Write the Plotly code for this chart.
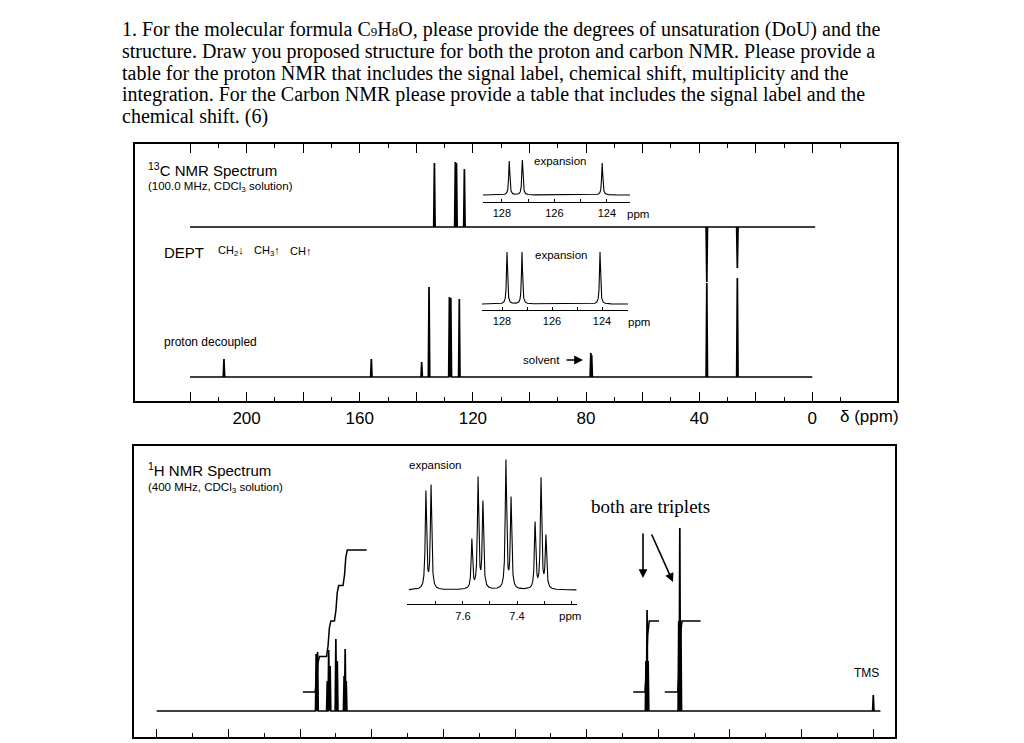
import numpy as np
import plotly.graph_objects as go

# The page body has an 8px margin: the figure is sized and positioned to compensate.
OFF = 8
W, H = 1024 - OFF, 743 - OFF


def px(x):
    return (x - OFF) / W


def py(y):
    return 1 - (y - OFF) / H


# ---------------- data ----------------
question_lines = [
    "1. For the molecular formula C<span style='font-size:13px'>9</span>H<span style='font-size:13px'>8</span>O, please provide the degrees of unsaturation (DoU) and the",
    "structure. Draw you proposed structure for both the proton and carbon NMR. Please provide a",
    "table for the proton NMR that includes the signal label, chemical shift, multiplicity and the",
    "integration. For the Carbon NMR please provide a table that includes the signal label and the",
    "chemical shift. (6)",
]

# 13C proton decoupled spectrum (ppm, relative intensity)
c13_ppm = [208.0, 155.9, 138.1, 135.5, 128.3, 127.8, 124.8, 78.3, 78.0, 37.3, 26.5]
c13_int = [18, 18, 15, 90, 80, 79, 78, 24, 22, 94, 99]
# DEPT spectrum (CH up, CH2 down)
dept_ppm = [133.6, 126.2, 125.8, 123.0, 37.3, 26.5]
dept_int = [64, 65, 64, 58, -55, -41]
# 13C expansion insets
c13_exp_ppm = [127.72, 127.22, 124.18]
dept_exp_int = [34, 35, 32]
dec_exp_ppm = [127.8, 127.2, 124.08]
dec_exp_int = [52, 52, 52]
c13_major = [220, 200, 180, 160, 140, 120, 100, 80, 60, 40, 20, 0]
c13_labels = ["", "200", "", "160", "", "120", "", "80", "", "40", "", "0"]
c13_minor = [210, 190, 170, 150, 130, 110, 90, 70, 50, 30, 10, -10]

# 1H spectrum lines (ppm, heights)
h1_lines_ppm = [7.775, 7.755, 7.62, 7.60, 7.58, 7.50, 7.48, 7.385, 7.37, 7.355,
                3.172, 3.157, 3.142, 2.715, 2.70, 2.685, 0.0]
h1_lines_int = [57, 59, 30, 61, 45, 72, 50, 35, 62, 30,
                50, 101, 50, 90, 183, 90, 16]
# integrations: (multiplet centre, number of H)
int_aro_centres = [7.76, 7.60, 7.49, 7.37]
int_aro_H = [1, 1, 1, 1]
int_aro_span = [7.96, 7.07]
int_ali1_centre, int_ali1_H, int_ali1_span = 3.157, 2, [3.35, 2.99]
int_ali2_centre, int_ali2_H, int_ali2_span = 2.70, 2, [2.91, 2.41]
# 1H expansion inset
h1_exp_ppm = [7.737, 7.718, 7.567, 7.544, 7.526, 7.441, 7.422, 7.333, 7.311, 7.293]
h1_exp_int = [97, 103, 49, 110, 86, 128, 90, 66, 110, 52]
h1_major = [10, 9, 8, 7, 6, 5, 4, 3, 2, 1, 0]
h1_minor = [9.5, 8.5, 7.5, 6.5, 5.5, 4.5, 3.5, 2.5, 1.5, 0.5]

# ---------------- helpers ----------------
def spikes(ppms, ints, start, end, hw):
    pairs = sorted(zip(ppms, ints), key=lambda t: -t[0])
    xs, ys = [start], [0]
    for p, h in pairs:
        xs += [p + hw, p, p - hw]
        ys += [0, h, 0]
    xs.append(end)
    ys.append(0)
    return xs, ys


def lorentz(ppms, ints, start, end, w, n=2500):
    x = np.linspace(start, end, n)
    y = np.zeros_like(x)
    for p, h in zip(ppms, ints):
        y += h * w * w / ((x - p) ** 2 + w * w)
    return x, y


def integral(centres, nH, span, base, perH, dw):
    xs, ys = [span[0]], [base]
    lvl = base
    for c, n in sorted(zip(centres, nH), key=lambda t: -t[0]):
        xs += [c + dw, c + dw * 0.3, c - dw * 0.3, c - dw]
        ys += [lvl, lvl + n * perH * 0.3, lvl + n * perH * 0.8, lvl + n * perH]
        lvl += n * perH
    xs.append(span[1])
    ys.append(lvl)
    return xs, ys


fig = go.Figure()

# 13C decoupled
x, y = spikes(c13_ppm, c13_int, 220, 0, 0.25)
fig.add_trace(go.Scatter(x=x, y=y, xaxis="x", yaxis="y", mode="lines", line=dict(color="black", width=1.7)))
# DEPT
x, y = spikes(dept_ppm, dept_int, 220, -1, 0.25)
fig.add_trace(go.Scatter(x=x, y=y, xaxis="x", yaxis="y2", mode="lines", line=dict(color="black", width=1.7)))
# DEPT expansion
x, y = lorentz(c13_exp_ppm, dept_exp_int, 128.72, 123.12, 0.025)
fig.add_trace(go.Scatter(x=x, y=y, xaxis="x2", yaxis="y3", mode="lines", line=dict(color="black", width=1.1)))
# decoupled expansion
x, y = lorentz(dec_exp_ppm, dec_exp_int, 128.8, 122.96, 0.025)
fig.add_trace(go.Scatter(x=x, y=y, xaxis="x3", yaxis="y4", mode="lines", line=dict(color="black", width=1.1)))
# 1H main
x, y = spikes(h1_lines_ppm, h1_lines_int, 10.0, -0.1, 0.009)
fig.add_trace(go.Scatter(x=x, y=y, xaxis="x4", yaxis="y5", mode="lines", line=dict(color="black", width=1.7)))
# integrations
for cs, ns, sp in [(int_aro_centres, int_aro_H, int_aro_span),
                   ([int_ali1_centre], [int_ali1_H], int_ali1_span),
                   ([int_ali2_centre], [int_ali2_H], int_ali2_span)]:
    x, y = integral(cs, ns, sp, 19, 35.5, 0.03)
    fig.add_trace(go.Scatter(x=x, y=y, xaxis="x4", yaxis="y5", mode="lines", line=dict(color="black", width=1.5)))
# 1H expansion
x, y = lorentz(h1_exp_ppm, h1_exp_int, 7.80, 7.18, 0.003, n=4000)
fig.add_trace(go.Scatter(x=x, y=y, xaxis="x5", yaxis="y6", mode="lines", line=dict(color="black", width=1.1)))

sans = "Liberation Sans, Arial, sans-serif"
serif = "Liberation Serif, Times New Roman, serif"
tick_common = dict(showgrid=False, zeroline=False, tickcolor="black", linecolor="black")

fig.update_layout(
    width=W, height=H, margin=dict(l=0, r=0, t=0, b=0),
    paper_bgcolor="white", plot_bgcolor="rgba(0,0,0,0)", showlegend=False,
    xaxis=dict(domain=[px(135), px(897)], range=[239.45, -29.94], anchor="y",
               showline=True, linewidth=1.6, mirror="ticks", ticks="inside", ticklen=9, tickwidth=1.3,
               tickvals=c13_major, ticktext=c13_labels, ticklabelstandoff=1,
               tickfont=dict(family=sans, size=17, color="black"),
               minor=dict(tickvals=c13_minor, ticks="inside", ticklen=4, tickwidth=1.3, tickcolor="black", showgrid=False),
               **tick_common),
    yaxis=dict(domain=[py(401), py(144)], range=[-24, 233], anchor="x", showline=True, linewidth=1.6,
               mirror=True, showticklabels=False, ticks="", **tick_common),
    yaxis2=dict(overlaying="y", range=[-174, 83], visible=False, anchor="x"),
    xaxis2=dict(domain=[px(483), px(630)], range=[128.72, 123.12], anchor="y3", showline=True, linewidth=1,
                ticks="inside", ticklen=3, tickvals=[128, 127, 126, 125, 124],
                ticktext=["128", "", "126", "", "124"], ticklabelstandoff=1,
                tickfont=dict(family=sans, size=11, color="black"), **tick_common),
    yaxis3=dict(domain=[py(202), py(150)], range=[-7, 45], anchor="x2", visible=False),
    xaxis3=dict(domain=[px(482), px(628)], range=[128.8, 122.96], anchor="y4", showline=True, linewidth=1,
                ticks="inside", ticklen=3, tickvals=[128, 127, 126, 125, 124],
                ticktext=["128", "", "126", "", "124"], ticklabelstandoff=1,
                tickfont=dict(family=sans, size=11, color="black"), **tick_common),
    yaxis4=dict(domain=[py(310), py(245)], range=[-6, 59], anchor="x3", visible=False),
    xaxis4=dict(domain=[px(134), px(895)], range=[10.317, -0.303], anchor="y5", showline=True, linewidth=1.6,
                mirror=True, ticks="inside", ticklen=8, tickwidth=1.3, tickvals=h1_major, showticklabels=False,
                minor=dict(tickvals=h1_minor, ticks="inside", ticklen=4, tickwidth=1.3, tickcolor="black", showgrid=False),
                **tick_common),
    yaxis5=dict(domain=[py(737), py(446)], range=[-26, 265], anchor="x4", showline=True, linewidth=1.6,
                mirror=True, showticklabels=False, ticks="", **tick_common),
    xaxis5=dict(domain=[px(407), px(577)], range=[7.807, 7.178], anchor="y6", showline=True, linewidth=1,
                ticks="inside", ticklen=3, tickvals=[7.7, 7.6, 7.5, 7.4, 7.3, 7.2],
                ticktext=["", "7.6", "", "7.4", "", ""], ticklabelstandoff=2,
                tickfont=dict(family=sans, size=11, color="black"), **tick_common),
    yaxis6=dict(domain=[py(604), py(455)], range=[-14, 135], anchor="x5", visible=False),
)

ann = []


def text(s, x, y, size, family=sans, xanchor="left"):
    ann.append(dict(text=s, x=px(x), y=py(y), xref="paper", yref="paper", showarrow=False,
                    xanchor=xanchor, yanchor="middle", font=dict(family=family, size=size, color="black")))


for i, s in enumerate(question_lines):
    text(s, 120, [30, 52, 73.5, 95, 117][i], 20, serif)

text("<sup>13</sup>C NMR Spectrum", 146, 169, 15)
text("(100.0 MHz, CDCl<sub>3</sub> solution)", 146, 187, 11.5)
text("DEPT", 162, 252, 15)
text("CH<sub>2</sub><b>↓</b>", 216, 251, 11)
text("CH<sub>3</sub><b>↑</b>", 252, 251, 11)
text("CH<b>↑</b>", 288, 251, 11)
text("expansion", 560, 161, 11.5, xanchor="center")
text("ppm", 638, 214, 11.5, xanchor="center")
text("expansion", 561, 255, 11.5, xanchor="center")
text("ppm", 639, 322, 11.5, xanchor="center")
text("proton decoupled", 162, 342, 12)
text("solvent", 562, 360, 11.5, xanchor="right")
text("δ (ppm)", 838, 416, 17)
text("<sup>1</sup>H NMR Spectrum", 146, 469, 15)
text("(400 MHz, CDCl<sub>3</sub> solution)", 146, 488, 11.5)
text("expansion", 435, 465, 11.5, xanchor="center")
text("ppm", 570, 616, 11.5, xanchor="center")
text("both are triplets", 589, 506, 19, serif)
text("TMS", 866, 673, 12, xanchor="center")


def arrow(x0, y0, x1, y1):
    ann.append(dict(text="", x=px(x1), y=py(y1), ax=x0 - x1, ay=y0 - y1, xref="paper", yref="paper",
                    axref="pixel", ayref="pixel", showarrow=True, arrowhead=2, arrowsize=1.1,
                    arrowwidth=1.6, arrowcolor="black"))


arrow(565, 360, 583, 360)
arrow(643, 532, 643, 578)
arrow(651, 533, 673, 582)

fig.update_layout(annotations=ann)
fig.write_html("out.html")
